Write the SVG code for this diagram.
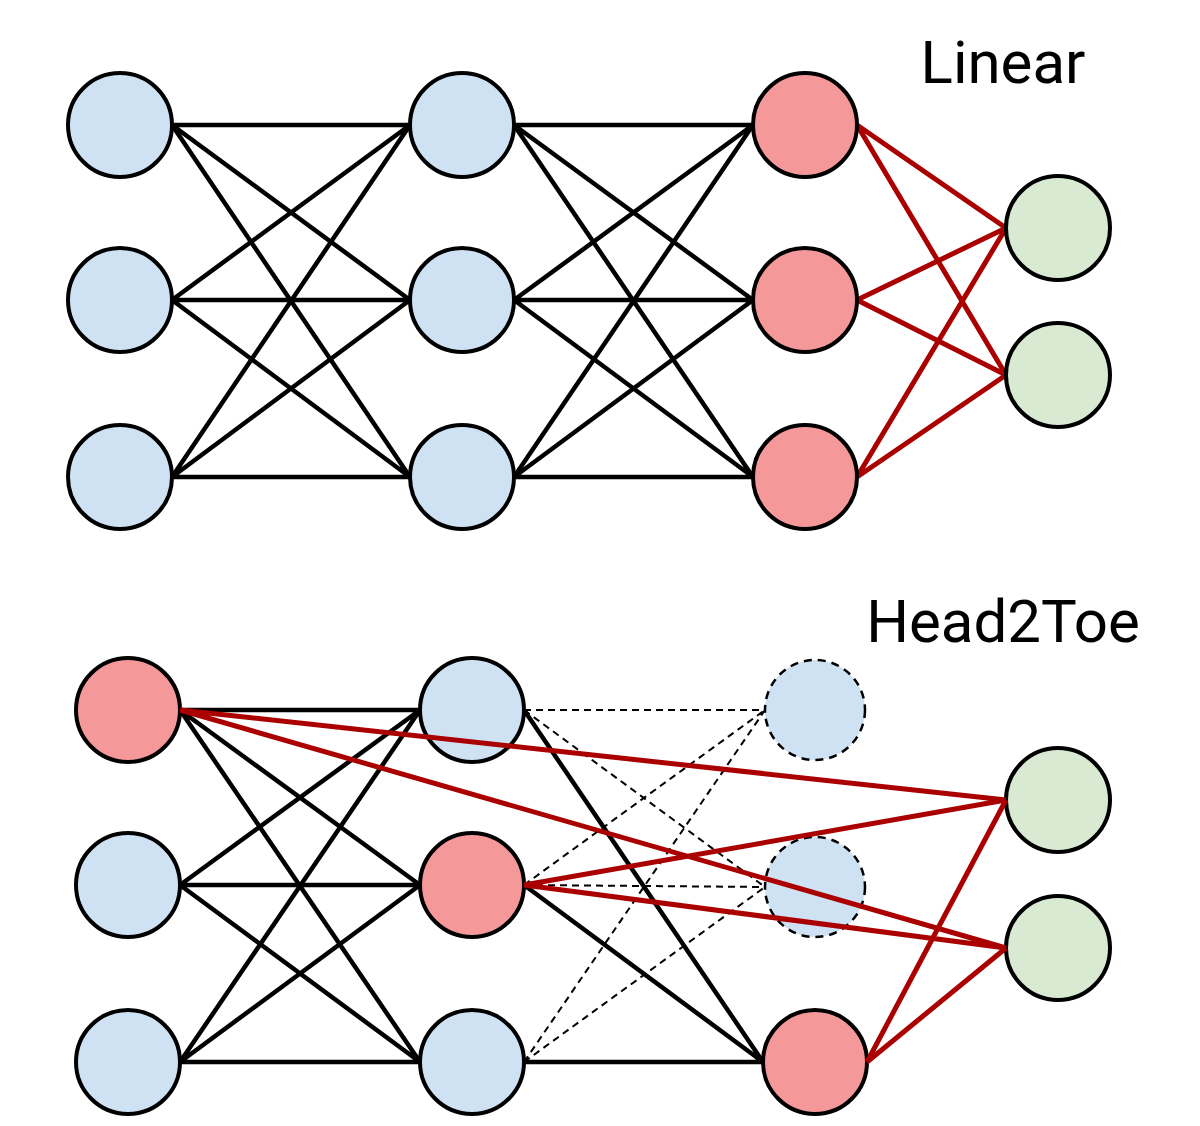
<svg xmlns="http://www.w3.org/2000/svg" width="1200" height="1126" viewBox="0 0 1200 1126">
<style>
.b{fill:#cfe2f3;stroke:#000;stroke-width:4}
.r{fill:#f4989a;stroke:#000;stroke-width:4}
.g{fill:#d9ead3;stroke:#000;stroke-width:4}
.d{fill:#cfe2f3;stroke:#000;stroke-width:2.5;stroke-dasharray:8 6}
.k{stroke:#000;stroke-width:4.5;fill:none}
.rd{stroke:#aa0000;stroke-width:5;fill:none}
.ds{stroke:#000;stroke-width:2;stroke-dasharray:7 5;fill:none}
text{font-family:Roboto,"Liberation Sans",sans-serif;font-size:60px;fill:#000}
</style>
<rect width="1200" height="1126" fill="#fff"/>
<g id="dashed-nodes">
<circle id="h3a" class="d" cx="815" cy="710" r="50"/>
<circle id="h3b" class="d" cx="815" cy="887" r="50"/>
</g>
<g id="connectors">
<path class="k" d="M172,125L410,125M172,125L410,300M172,125L410,477M172,300L410,125M172,300L410,300M172,300L410,477M172,477L410,125M172,477L410,300M172,477L410,477"/>
<path class="k" d="M514,125L753,125M514,125L753,300M514,125L753,477M514,300L753,125M514,300L753,300M514,300L753,477M514,477L753,125M514,477L753,300M514,477L753,477"/>
<path class="rd" d="M857,125L1006,228M857,125L1006,375M857,300L1006,228M857,300L1006,375M857,477L1006,228M857,477L1006,375"/>
<path class="k" d="M180,710L420,710M180,710L420,885M180,710L420,1062M180,885L420,710M180,885L420,885M180,885L420,1062M180,1062L420,710M180,1062L420,885M180,1062L420,1062"/>
<path class="k" d="M524,710L763,1062M524,885L763,1062M524,1062L763,1062"/>
<path class="ds" d="M524,710L765,710M524,710L765,887M524,885L765,710M524,885L765,887M524,1062L765,710M524,1062L765,887"/>
</g>
<g id="nodes">
<circle class="b" cx="120" cy="125" r="52"/><circle class="b" cx="120" cy="300" r="52"/><circle class="b" cx="120" cy="477" r="52"/>
<circle class="b" cx="462" cy="125" r="52"/><circle class="b" cx="462" cy="300" r="52"/><circle class="b" cx="462" cy="477" r="52"/>
<circle class="r" cx="805" cy="125" r="52"/><circle class="r" cx="805" cy="300" r="52"/><circle class="r" cx="805" cy="477" r="52"/>
<circle class="g" cx="1058" cy="228" r="52"/><circle class="g" cx="1058" cy="375" r="52"/>
<circle class="r" cx="128" cy="710" r="52"/><circle class="b" cx="128" cy="885" r="52"/><circle class="b" cx="128" cy="1062" r="52"/>
<circle class="b" cx="472" cy="710" r="52"/><circle class="r" cx="472" cy="885" r="52"/><circle class="b" cx="472" cy="1062" r="52"/>
<circle class="r" cx="815" cy="1062" r="52"/>
<circle class="g" cx="1058" cy="800" r="52"/><circle class="g" cx="1058" cy="948" r="52"/>
</g>
<g id="red-connectors">
<path class="rd" d="M180,710L1006,800M180,710L1006,948M524,885L1006,800M524,885L1006,948M867,1062L1006,800M867,1062L1006,948"/>
</g>
<g id="labels">
<text x="1003" y="83" text-anchor="middle">Linear</text>
<text x="1003" y="642" text-anchor="middle">Head2Toe</text>
</g>
</svg>
